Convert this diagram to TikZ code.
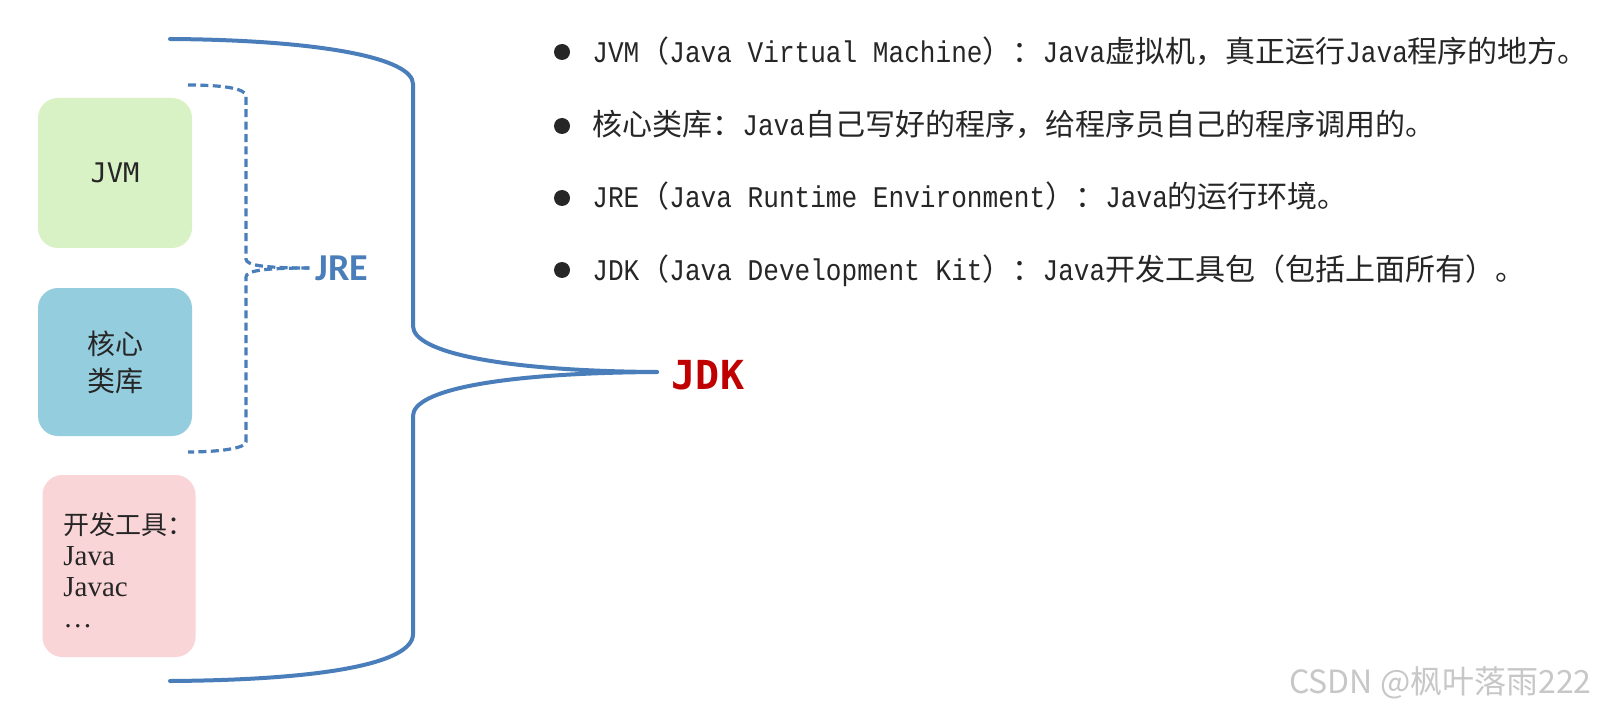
\documentclass[tikz,border=0pt]{standalone}
\usepackage{fontspec}
\setmainfont{Noto Sans CJK SC}
\newfontfamily\lm[FakeStretch=0.87]{Liberation Mono}
\newfontfamily\lserif{Liberation Serif}
\newfontfamily\dmono{DejaVu Sans Mono}
\newfontfamily\carl{Carlito}
\definecolor{lineblue}{RGB}{74,126,187}
\definecolor{txt}{RGB}{38,38,38}
\definecolor{greenbox}{RGB}{217,242,197}
\definecolor{bluebox}{RGB}{148,205,222}
\definecolor{pinkbox}{RGB}{250,213,215}
\definecolor{jdkred}{RGB}{192,0,0}
\begin{document}
\begin{tikzpicture}[x=0.5pt,y=-0.5pt,
  box/.style={rounded corners=10pt, inner sep=0pt, text=txt},
  item/.style={anchor=base west, inner sep=0pt, text=txt, font=\fontsize{15}{18}\selectfont},
  bulletdot/.style={circle, fill=txt, inner sep=0pt, minimum size=8pt},
  bigbrace/.style={draw=lineblue, line width=2pt, line cap=round},
  smallbrace/.style={draw=lineblue, line width=1.6pt, dash pattern=on 4pt off 2.2pt}]
\useasboundingbox (0,0) rectangle (1600,711);
\fill[white] (0,0) rectangle (1600,711);

% boxes
\node[box, fill=greenbox, minimum width=77pt, minimum height=75pt,
  font=\dmono\fontsize{13.5}{16}\selectfont] (jvm) at (115,173) {JVM};
\node[box, fill=bluebox, minimum width=77pt, minimum height=74pt, align=center,
  font=\fontsize{14}{18.5}\selectfont] (lib) at (115,362) {核心\\类库};
\node[box, fill=pinkbox, minimum width=76.5pt, minimum height=91pt] (tools) at (119,566) {};
\node[anchor=west, inner sep=0pt, align=left, text=txt,
  font=\fontsize{13}{15.5}\selectfont] (toolstext) at (63,570)
  {开发工具：\\{\lserif\fontsize{14.5}{15.5}\selectfont Java}\\{\lserif\fontsize{14.5}{15.5}\selectfont Javac}\\{\lserif\fontsize{14.5}{15.5}\selectfont …}};

% labels
\node[text=lineblue, font=\carl\bfseries\fontsize{19}{22}\selectfont, inner sep=3pt] (jre) at (342,268) {JRE};
\node[text=jdkred, font=\dmono\bfseries\fontsize{20}{24}\selectfont, inner sep=0pt] (jdk) at (708,375) {JDK};
\coordinate (tip) at (657,372);
\coordinate (jrejoin) at (jre.west);

% big solid brace
\draw[bigbrace] (170,39) .. controls (320,40) and (413,58) .. (413,84)
  -- (413,326) .. controls (413,352) and (500,371) .. (tip);
\draw[bigbrace] (tip) .. controls (500,373) and (413,390) .. (413,416)
  -- (413,634) .. controls (413,664) and (320,680) .. (170,681);

% dashed JRE brace
\draw[smallbrace] (188,85) .. controls (220,85) and (246,88) .. (246,96)
  -- (246,259) .. controls (246,265) and (262,268) .. (jrejoin);
\draw[smallbrace] (jrejoin) .. controls (262,268) and (246,271) .. (246,277)
  -- (246,442) .. controls (246,448) and (220,452) .. (188,452);

% bullet list
\node[bulletdot] (b1) at (562,52) {};
\node[bulletdot] (b2) at (562,126) {};
\node[bulletdot] (b3) at (562,198) {};
\node[bulletdot] (b4) at (562,270) {};
\node[item] (t1) at (592,63) {{\lm JVM}（{\lm Java Virtual Machine}）：{\lm Java}虚拟机，真正运行{\lm Java}程序的地方。};
\node[item] (t2) at (592,136) {核心类库：{\lm Java}自己写好的程序，给程序员自己的程序调用的。};
\node[item] (t3) at (592,208) {{\lm JRE}（{\lm Java Runtime Environment}）：{\lm Java}的运行环境。};
\node[item] (t4) at (592,280) {{\lm JDK}（{\lm Java Development Kit}）：{\lm Java}开发工具包（包括上面所有）。};

% watermark
\node[anchor=base east, inner sep=0pt, text=black!22, font=\fontsize{16}{19}\selectfont] (wm) at (1592,693) {CSDN @枫叶落雨222};
\end{tikzpicture}
\end{document}
